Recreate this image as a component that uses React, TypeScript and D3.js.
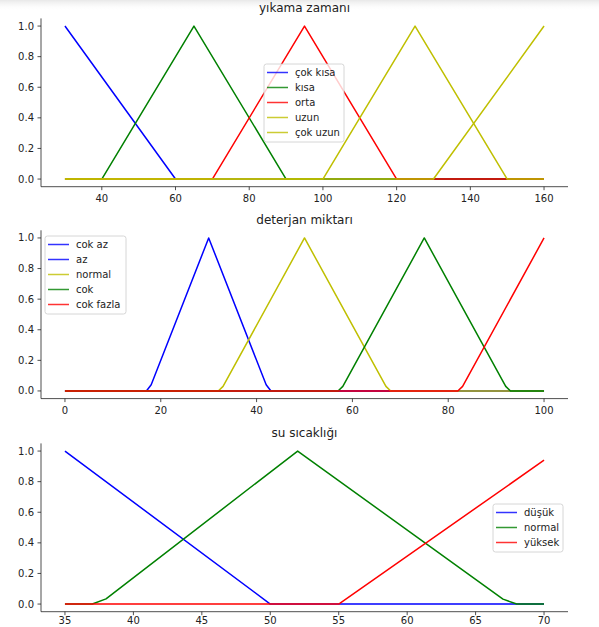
import { scaleLinear, line as d3line } from "d3";

// ---- data (breakpoints of each membership curve) ----
const yTicks = [0, 0.2, 0.4, 0.6, 0.8, 1.0];

const washTicks = [40, 60, 80, 100, 120, 140, 160];
const washNames = ["çok kısa", "kısa", "orta", "uzun", "çok uzun"];
const washColors = ["#0000ff", "#008000", "#ff0000", "#bfbf00", "#bfbf00"];
const washX = [
  [30, 60, 160],
  [30, 40, 65, 90, 160],
  [30, 70, 95, 120, 160],
  [30, 100, 125, 150, 160],
  [30, 130, 160],
];
const washY = [
  [1, 0, 0],
  [0, 0, 1, 0, 0],
  [0, 0, 1, 0, 0],
  [0, 0, 1, 0, 0],
  [0, 0, 1],
];

const detTicks = [0, 20, 40, 60, 80, 100];
const detNames = ["cok az", "az", "normal", "cok", "cok fazla"];
const detColors = ["#0000ff", "#0000ff", "#bfbf00", "#008000", "#ff0000"];
const detX = [
  [0, 100],
  [0, 17, 18, 30, 42, 43, 100],
  [0, 32, 33, 50, 67, 68, 100],
  [0, 57, 58, 75, 92, 93, 100],
  [0, 82, 83, 100],
];
const detY = [
  [0, 0],
  [0, 0, 0.04, 1, 0.04, 0, 0],
  [0, 0, 0.03, 1, 0.03, 0, 0],
  [0, 0, 0.03, 1, 0.03, 0, 0],
  [0, 0, 0.03, 1],
];

const tempTicks = [35, 40, 45, 50, 55, 60, 65, 70];
const tempNames = ["düşük", "normal", "yüksek"];
const tempColors = ["#0000ff", "#008000", "#ff0000"];
const tempX = [
  [35, 50, 70],
  [35, 37, 38, 52, 67, 68, 70],
  [35, 55, 70],
];
const tempY = [
  [1, 0, 0],
  [0, 0, 0.034, 1, 0.032, 0, 0],
  [0, 0, 0.94],
];

const FONT = "DejaVu Sans, sans-serif";
const INK = "#222";
const H = 627;

type PanelProps = {
  title: string;
  top: number; // pixel of y=1.05
  domain: [number, number];
  xTicks: number[];
  names: string[];
  colors: string[];
  xs: number[][];
  ys: number[][];
  legend: { x: number; y: number; w: number };
};

function Panel({ title, top, domain, xTicks, names, colors, xs, ys, legend }: PanelProps) {
  const left = 41;
  const right = 568;
  const h = 168.3;
  const pad = (domain[1] - domain[0]) * 0.05;
  const x = scaleLinear().domain([domain[0] - pad, domain[1] + pad]).range([left, right]);
  const y = scaleLinear().domain([-0.05, 1.05]).range([top + h, top]);
  const bottom = top + h;
  // keep the bottom tick labels inside the picture
  const labelY = Math.min(bottom + 15.5, H - 3);

  const line = d3line<[number, number]>()
    .x((d) => x(d[0]))
    .y((d) => y(d[1]));

  const legH = names.length * 15 + 3;

  return (
    <g>
      <text x={(left + right) / 2} y={top - 6} textAnchor="middle" fontSize={12} fill={INK} fontFamily={FONT}>
        {title}
      </text>
      {xs.map((xv, i) => (
        <path
          key={i}
          d={line(xv.map((v, j) => [v, ys[i][j]] as [number, number])) ?? undefined}
          fill="none"
          stroke={colors[i]}
          strokeWidth={1.5}
          strokeLinejoin="round"
        />
      ))}
      <line x1={left} x2={left} y1={top} y2={bottom} stroke={INK} strokeWidth={0.8} />
      <line x1={left} x2={right} y1={bottom} y2={bottom} stroke={INK} strokeWidth={0.8} />
      {yTicks.map((t) => (
        <g key={t}>
          <line x1={left - 3.5} x2={left} y1={y(t)} y2={y(t)} stroke={INK} strokeWidth={0.8} />
          <text x={left - 7} y={y(t)} dy="0.35em" textAnchor="end" fontSize={10} fill={INK} fontFamily={FONT}>
            {t.toFixed(1)}
          </text>
        </g>
      ))}
      {xTicks.map((t) => (
        <g key={t}>
          <line x1={x(t)} x2={x(t)} y1={bottom} y2={bottom + 3.5} stroke={INK} strokeWidth={0.8} />
          <text x={x(t)} y={labelY} textAnchor="middle" fontSize={10} fill={INK} fontFamily={FONT}>
            {t}
          </text>
        </g>
      ))}
      <g transform={`translate(${legend.x},${legend.y})`}>
        <rect width={legend.w} height={legH} rx={2.5} fill="white" fillOpacity={0.8} stroke="#cccccc" strokeWidth={0.8} />
        {names.map((n, i) => (
          <g key={n + i} transform={`translate(0,${8.5 + i * 15})`}>
            <line x1={3} x2={24} stroke={colors[i]} strokeWidth={1.5} strokeOpacity={0.8} />
            <text x={31} dy="0.35em" fontSize={10} fill={INK} fontFamily={FONT}>
              {n}
            </text>
          </g>
        ))}
      </g>
    </g>
  );
}

export default function App() {
  return (
    <svg width={599} height={H} style={{ position: "absolute", left: 0, top: 0, background: "white" }}>
      <defs>
        <linearGradient id="topShade" x1="0" y1="0" x2="0" y2="1">
          <stop offset="0%" stopColor="#e8e8e8" />
          <stop offset="100%" stopColor="#ffffff" stopOpacity={0} />
        </linearGradient>
      </defs>
      <rect width={599} height={H} fill="white" />
      <rect width={599} height={11} fill="url(#topShade)" />
      <Panel
        title="yıkama zamanı"
        top={18.4}
        domain={[30, 160]}
        xTicks={washTicks}
        names={washNames}
        colors={washColors}
        xs={washX}
        ys={washY}
        legend={{ x: 264, y: 64, w: 80 }}
      />
      <Panel
        title="deterjan miktarı"
        top={230.3}
        domain={[0, 100]}
        xTicks={detTicks}
        names={detNames}
        colors={detColors}
        xs={detX}
        ys={detY}
        legend={{ x: 45, y: 236, w: 81 }}
      />
      <Panel
        title="su sıcaklığı"
        top={443.4}
        domain={[35, 70]}
        xTicks={tempTicks}
        names={tempNames}
        colors={tempColors}
        xs={tempX}
        ys={tempY}
        legend={{ x: 493, y: 504, w: 70 }}
      />
    </svg>
  );
}
